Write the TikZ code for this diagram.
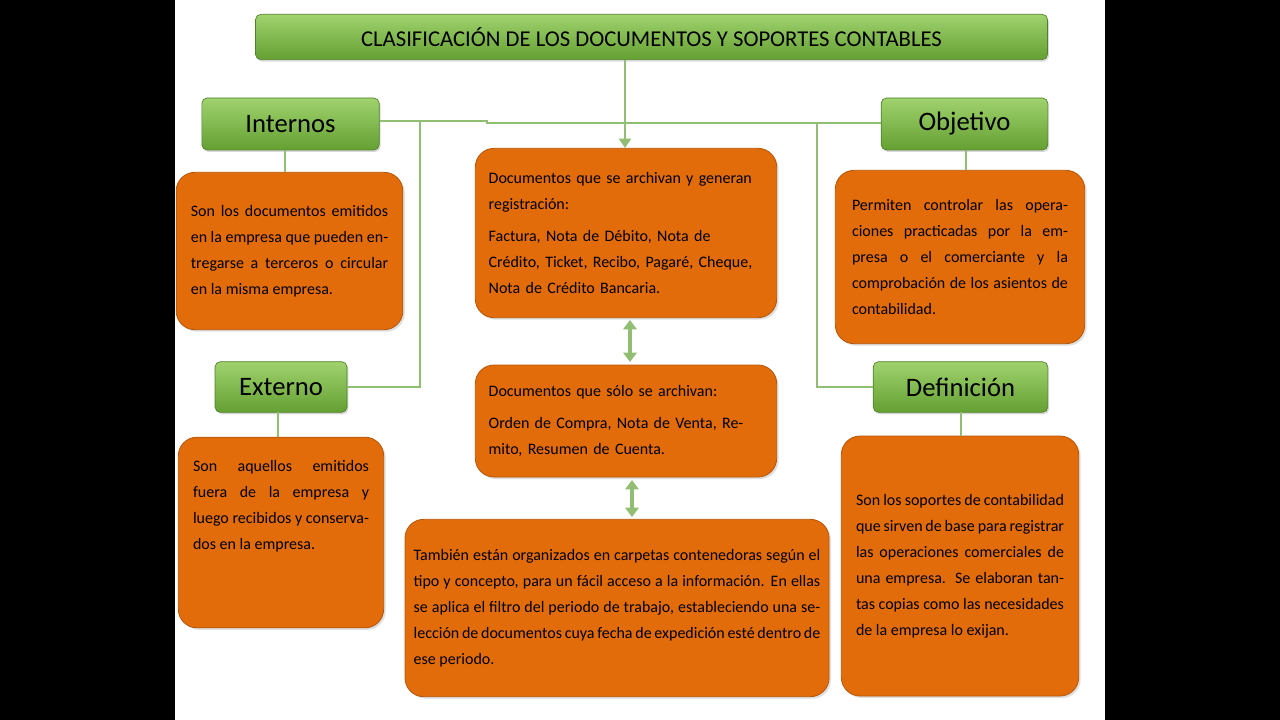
\documentclass[tikz,border=0pt]{standalone}
\usepackage{fontspec}
\setmainfont{Carlito}
\usetikzlibrary{shadows,arrows.meta}
\definecolor{org}{RGB}{226,108,10}
\definecolor{grnT}{RGB}{160,210,110}
\definecolor{grnB}{RGB}{100,160,50}
\definecolor{lin}{RGB}{145,190,115}
\tikzset{
 obox/.style={draw=org!80!black, line width=0.6pt, fill=org, rounded corners=14pt, inner sep=0pt, text=black,
   font=\fontsize{12}{19.5}\selectfont, drop shadow={opacity=0.25,shadow xshift=1.5pt,shadow yshift=-1.5pt}},
 gbox/.style={draw=grnB!80!black, line width=0.5pt, top color=grnT, bottom color=grnB, rounded corners=4pt, inner sep=0pt,
   drop shadow={opacity=0.3,shadow xshift=1pt,shadow yshift=-1.5pt}},
 conn/.style={draw=lin, line width=2.2pt},
 dbl/.style={draw=lin, line width=3.5pt, {Triangle[width=10pt,length=7pt]}-{Triangle[width=10pt,length=7pt]}}
}
\begin{document}
\begin{tikzpicture}[x=0.75pt,y=-0.75pt]
\fill[black] (0,0) rectangle (1280,720);
\fill[white] (175,0) rectangle (1105,720);
\useasboundingbox (0,0) rectangle (1280,720);
% title and labels
\node[gbox, minimum width=594pt, minimum height=34pt, font=\fontsize{17}{20}\selectfont] (t) at (651.5,37) {CLASIFICACIÓN DE LOS DOCUMENTOS Y SOPORTES CONTABLES};
\node[gbox, minimum width=133pt, minimum height=39pt, font=\fontsize{20}{24}\selectfont] (int) at (290.5,124) {Internos};
\node[gbox, minimum width=125pt, minimum height=39pt, font=\fontsize{20}{24}\selectfont] (obj) at (964.5,124) {Objetivo};
\node[gbox, minimum width=99pt, minimum height=38pt, font=\fontsize{20}{24}\selectfont] (ext) at (281,387) {Externo};
\node[gbox, minimum width=131pt, minimum height=38pt, font=\fontsize{20}{24}\selectfont] (def) at (960.5,387) {Definición};
% orange boxes
\node[obox, minimum width=170pt, minimum height=118pt, text width=148pt, align=justify] (d1) at (289.5,251) {Son los documentos emitidos en la empresa que pueden entregarse a terceros o circular en la misma empresa.};
\node[obox, minimum width=226pt, minimum height=127pt, text width=206pt] (c1) at (626,233) {Documentos que se archivan y generan registración:\par\vspace{4pt}\centering Factura, Nota de Débito, Nota de Crédito, Ticket, Recibo, Pagaré, Cheque, Nota de Crédito Bancaria.};
\node[obox, minimum width=187pt, minimum height=130pt, text width=162pt, align=justify] (d2) at (960,257) {Permiten controlar las operaciones practicadas por la empresa o el comerciante y la comprobación de los asientos de contabilidad.};
\node[obox, minimum width=226pt, minimum height=84pt, text width=206pt] (c2) at (626,421) {Documentos que sólo se archivan:\par\vspace{4pt} Orden de Compra, Nota de Venta, Remito, Resumen de Cuenta.};
\node[obox, minimum width=154pt, minimum height=143pt, text width=132pt, align=justify] (d3) at (281,532.5) {Son aquellos emitidos fuera de la empresa y luego recibidos y conservados en la empresa.\par\vspace{40pt}};
\node[obox, minimum width=318pt, minimum height=133pt, text width=305pt, align=justify] (c3) at (617,608) {También están organizados en carpetas contenedoras según el tipo y concepto, para un fácil acceso a la información. En ellas se aplica el filtro del periodo de trabajo, estableciendo una selección de documentos cuya fecha de expedición esté dentro de ese periodo.};
\node[obox, minimum width=178pt, minimum height=195pt, text width=156pt, align=justify] (d4) at (960,566) {Son los soportes de contabilidad que sirven de base para registrar las operaciones comerciales de una empresa. Se elaboran tantas copias como las necesidades de la empresa lo exijan.};
% connectors
\coordinate (j1) at (420,121);
\coordinate (j2) at (817,123);
\draw[conn] (int.east|-j1) -- (487,121) -- (487,123) -- (obj.west|-j2);
\draw[conn] (j1) -- (420,387) -- (ext.east);
\draw[conn] (j2) -- (817,387) -- (def.west);
\draw[conn, -{Triangle[width=9pt,length=7pt]}] (625,60) -- (c1.north-|625,0);
\draw[conn] (285,150) -- (285,172);
\draw[conn] (966,150) -- (966,170);
\draw[conn] (278,412) -- (278,437);
\draw[conn] (961,412) -- (961,436);
\draw[dbl] (630,320) -- (630,362);
\draw[dbl] (632,480) -- (632,517);
\end{tikzpicture}
\end{document}
